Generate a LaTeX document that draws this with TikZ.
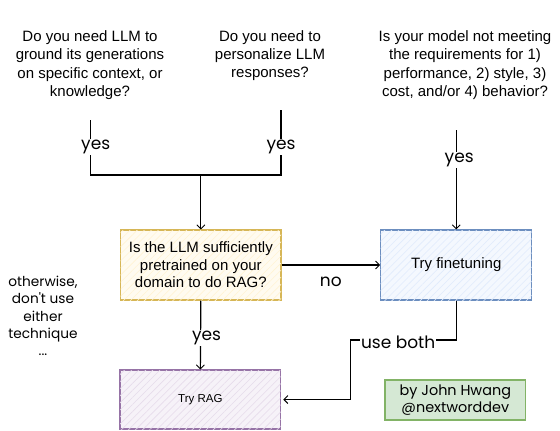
\documentclass[tikz,border=0pt]{standalone}
\usepackage{fontspec}
\setmainfont{Liberation Sans}
\newfontfamily\hand{Poppins}
\usetikzlibrary{arrows.meta,patterns.meta}
\definecolor{ybd}{HTML}{D6B656}
\definecolor{ybf}{HTML}{FFF2CC}
\definecolor{bbd}{HTML}{6C8EBF}
\definecolor{bbf}{HTML}{DAE8FC}
\definecolor{pbd}{HTML}{9673A6}
\definecolor{pbf}{HTML}{E1D5E7}
\definecolor{gbd}{HTML}{82B366}
\definecolor{gbf}{HTML}{D5E8D4}
\begin{document}
\begin{tikzpicture}[x=1pt,y=-1pt,
  q/.style={font=\fontsize{15}{18.3}\selectfont, align=center, inner sep=0pt},
  lbl/.style={font=\hand\fontsize{17}{17}\selectfont, fill=white, inner sep=1pt},
  ln/.style={line width=1.2pt, black},
  arr/.style={ln, -{Straight Barb[length=4pt,width=8pt,line width=0.9pt]}},
  box/.style={draw=#1bd, line width=1.1pt, fill=#1bf!30,
    postaction={pattern={Lines[angle=45,distance=5pt,line width=0.6pt]}, pattern color=#1bf!85},
    inner sep=0pt, align=center},
  credit/.style={draw=gbd, line width=1.1pt, fill=gbf, inner sep=0pt, align=center,
    minimum width=140.7pt, minimum height=40pt, font=\hand\fontsize{14.4}{17.3}\selectfont},
]
\useasboundingbox (0,0) rectangle (560,431);

\node[q] (q1) at (90,65) {Do you need LLM to\\ground its generations\\on specific context, or\\knowledge?};
\node[q] (q2) at (270,55.5) {Do you need to\\personalize LLM\\responses?};
\node[q] (q3) at (465,65) {Is your model not meeting\\the requirements for 1)\\performance, 2) style, 3)\\cost, and/or 4) behavior?};

\node[box=y, minimum width=160.3pt, minimum height=70pt, font=\fontsize{15}{17.5}\selectfont] (yb) at (200.85,265) {Is the LLM sufficiently\\pretrained on your\\domain to do RAG?};
\node[box=b, minimum width=151pt, minimum height=70pt, font=\fontsize{15}{17}\selectfont] (fb) at (456.2,265) {Try finetuning};
\node[box=p, minimum width=160.7pt, minimum height=59pt, font=\fontsize{11.5}{13}\selectfont] (rag) at (200.35,399.5) {Try RAG};
\node[credit] (cr) at (455.35,400) {by John Hwang\\@nextworddev};

\node[font=\hand\fontsize{13.7}{17.4}\selectfont, align=center, inner sep=0pt] (ow) at (43,316) {otherwise,\\don't use\\either\\technique\\...};

\coordinate (t1) at (90.7,120);
\coordinate (c1) at (90.7,175);
\coordinate (c2) at (281,175);
\coordinate (t2) at (281,110);
\coordinate (j) at (200.85,175);
\coordinate (t3) at (456.2,130);
\coordinate (u1) at (456.2,340);
\coordinate (u2) at (350.7,340);
\coordinate (u3) at (350.7,399.5);

\draw[ln] (t1) -- node[lbl, pos=0.485, xshift=5pt]{yes} (c1) -- (c2) -- node[lbl, pos=0.435]{yes} (t2);
\draw[arr] (j) -- (yb.north);
\draw[arr] (t3) -- node[lbl, pos=0.3, xshift=3pt]{yes} (fb.north);
\draw[arr] (yb.east) -- node[lbl, fill=none, pos=0.5, yshift=-16.7pt]{no} (fb.west);
\draw[arr] (yb.south) -- node[lbl, pos=0.54, xshift=6pt]{yes} (rag.north);
\draw[arr, shorten >=2pt] (fb.south) -- (u1) -- node[lbl, pos=0.55, yshift=-2.7pt]{use both} (u2) -- (u3) -- (rag.east);
\end{tikzpicture}
\end{document}
